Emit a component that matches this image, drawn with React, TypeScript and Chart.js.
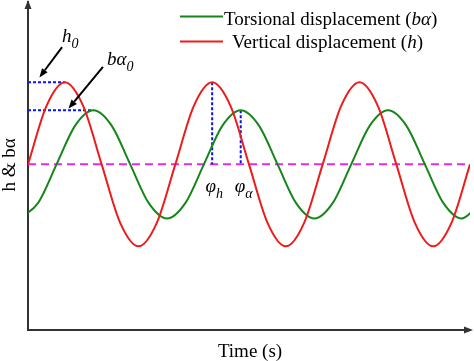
import React, { useEffect, useRef } from "react";
import { Chart, registerables } from "chart.js";

Chart.register(...registerables);

// Time samples (arbitrary units, one period = 8 units)
const redTime = [0, 1, 2, 3, 4, 5, 6, 7, 8, 9, 10, 11, 12, 13, 14, 15, 16, 17, 18, 19, 20, 21, 22, 23, 24];
// Vertical displacement h (normalised)
const redH = [0, 0.71, 1, 0.71, 0, -0.71, -1, -0.71, 0, 0.71, 1, 0.71, 0, -0.71, -1, -0.71, 0, 0.71, 1, 0.71, 0, -0.71, -1, -0.71, 0];

const greenTime = [-0.45, 0.55, 1.55, 2.55, 3.55, 4.55, 5.55, 6.55, 7.55, 8.55, 9.55, 10.55, 11.55, 12.55, 13.55, 14.55, 15.55, 16.55, 17.55, 18.55, 19.55, 20.55, 21.55, 22.55, 23.55, 24.55];
// Torsional displacement b·alpha (normalised)
const greenBA = [-0.66, -0.47, 0, 0.47, 0.66, 0.47, 0, -0.47, -0.66, -0.47, 0, 0.47, 0.66, 0.47, 0, -0.47, -0.66, -0.47, 0, 0.47, 0.66, 0.47, 0, -0.47, -0.66, -0.47];

// Annotation values
const h0 = 1;
const ba0 = 0.66;
const hPeakTime = [2, 10];
const aPeakTime = [3.55, 11.55];
const timeRange = [0, 24];
const valueRange = [-2.02, 1.98];

const RED = "#ec1c1c";
const GREEN = "#17861a";
const BLUE = "#0a14e6";
const MAGENTA = "#e22ce2";
const AXIS = "#333333";
const SERIF = "'Liberation Serif', 'Times New Roman', serif";

type Seg = { t: string; it?: boolean; sub?: boolean };

function drawRich(ctx: CanvasRenderingContext2D, segs: Seg[], x: number, y: number, size: number, align: "left" | "center" = "left") {
  const fontOf = (s: Seg) => `${s.it ? "italic " : ""}${s.sub ? Math.round(size * 0.72) : size}px ${SERIF}`;
  let total = 0;
  for (const s of segs) {
    ctx.font = fontOf(s);
    total += ctx.measureText(s.t).width;
  }
  let cx = align === "center" ? x - total / 2 : x;
  ctx.textAlign = "left";
  ctx.textBaseline = "alphabetic";
  for (const s of segs) {
    ctx.font = fontOf(s);
    ctx.fillText(s.t, cx, s.sub ? y + size * 0.3 : y);
    cx += ctx.measureText(s.t).width;
  }
}

function arrow(ctx: CanvasRenderingContext2D, x1: number, y1: number, x2: number, y2: number, head: number, hw: number, color: string, lw: number) {
  const ang = Math.atan2(y2 - y1, x2 - x1);
  const bx = x2 - head * Math.cos(ang);
  const by = y2 - head * Math.sin(ang);
  ctx.strokeStyle = color;
  ctx.fillStyle = color;
  ctx.lineWidth = lw;
  ctx.beginPath();
  ctx.moveTo(x1, y1);
  ctx.lineTo(bx, by);
  ctx.stroke();
  ctx.beginPath();
  ctx.moveTo(x2, y2);
  ctx.lineTo(bx + hw * Math.sin(ang), by - hw * Math.cos(ang));
  ctx.lineTo(bx - hw * Math.sin(ang), by + hw * Math.cos(ang));
  ctx.closePath();
  ctx.fill();
}

const decor = {
  id: "decor",
  afterDraw(chart: any) {
    const ctx: CanvasRenderingContext2D = chart.ctx;
    const { left, right, top, bottom } = chart.chartArea;
    const xs = chart.scales.x;
    const ys = chart.scales.y;
    const px = (v: number) => xs.getPixelForValue(v);
    const py = (v: number) => ys.getPixelForValue(v);
    ctx.save();

    // axis arrowheads
    arrow(ctx, left, top + 6, left, 0, 9, 3.5, AXIS, 2);
    arrow(ctx, right - 6, bottom, 473, bottom, 9, 3.5, AXIS, 2);

    ctx.fillStyle = "#000";
    // annotation arrows
    arrow(ctx, px(1.85), py(1.43), px(0.62), py(h0 + 0.06), 9, 3.5, "#000", 2);
    arrow(ctx, px(4.07), py(1.19), px(2.2), py(ba0 + 0.02), 9, 3.5, "#000", 2);

    ctx.fillStyle = "#000";
    drawRich(ctx, [{ t: "h", it: true }, { t: "0", it: true, sub: true }], px(1.85), py(1.49), 19);
    drawRich(ctx, [{ t: "b", it: true }, { t: "α", it: true }, { t: "0", it: true, sub: true }], px(4.29), py(1.21), 19);
    drawRich(ctx, [{ t: "φ", it: true }, { t: "h", it: true, sub: true }], px(hPeakTime[1]) + 2, py(-0.34), 19, "center");
    drawRich(ctx, [{ t: "φ", it: true }, { t: "α", it: true, sub: true }], px(aPeakTime[1]) + 3, py(-0.34), 19, "center");

    // legend
    ctx.lineWidth = 2;
    ctx.strokeStyle = GREEN;
    ctx.beginPath();
    ctx.moveTo(180, 16.5);
    ctx.lineTo(223, 16.5);
    ctx.stroke();
    ctx.strokeStyle = RED;
    ctx.beginPath();
    ctx.moveTo(180, 41.5);
    ctx.lineTo(223, 41.5);
    ctx.stroke();
    ctx.fillStyle = "#000";
    drawRich(ctx, [{ t: "Torsional displacement (" }, { t: "bα", it: true }, { t: ")" }], 224, 25, 19);
    drawRich(ctx, [{ t: "Vertical displacement (" }, { t: "h", it: true }, { t: ")" }], 232, 48, 19);

    // axis titles
    drawRich(ctx, [{ t: "Time (s)" }], 250, 357, 19, "center");
    ctx.save();
    ctx.translate(15, 165);
    ctx.rotate(-Math.PI / 2);
    drawRich(ctx, [{ t: "h & bα" }], 0, 0, 19, "center");
    ctx.restore();

    ctx.restore();
  },
};

export default function App() {
  const ref = useRef<HTMLCanvasElement | null>(null);
  useEffect(() => {
    if (!ref.current) return;
    const pts = (xs: number[], ys: number[]) => xs.map((x, i) => ({ x, y: ys[i] }));
    const chart = new Chart(ref.current, {
      type: "line",
      data: {
        datasets: [
          { label: "Vertical displacement (h)", data: pts(redTime, redH), borderColor: RED, borderWidth: 2, pointRadius: 0, cubicInterpolationMode: "monotone" },
          { label: "Torsional displacement (bα)", data: pts(greenTime, greenBA), borderColor: GREEN, borderWidth: 2, pointRadius: 0, cubicInterpolationMode: "monotone" },
          { label: "h0", data: [{ x: timeRange[0], y: h0 }, { x: hPeakTime[0], y: h0 }], borderColor: BLUE, borderWidth: 2, borderDash: [3, 2], pointRadius: 0 },
          { label: "ba0", data: [{ x: timeRange[0], y: ba0 }, { x: aPeakTime[0], y: ba0 }], borderColor: BLUE, borderWidth: 2, borderDash: [3, 2], pointRadius: 0 },
          { label: "phih", data: [{ x: hPeakTime[1], y: h0 }, { x: hPeakTime[1], y: 0 }], borderColor: BLUE, borderWidth: 2, borderDash: [3, 2], pointRadius: 0 },
          { label: "phia", data: [{ x: aPeakTime[1], y: ba0 }, { x: aPeakTime[1], y: 0 }], borderColor: BLUE, borderWidth: 2, borderDash: [3, 2], pointRadius: 0 },
          { label: "zero", data: [{ x: timeRange[0], y: 0 }, { x: timeRange[1], y: 0 }], borderColor: MAGENTA, borderWidth: 2, borderDash: [8, 5], pointRadius: 0 },
        ],
      },
      options: {
        animation: false,
        responsive: true,
        maintainAspectRatio: false,
        layout: { padding: { left: 28, right: 4, top: 2, bottom: 31 } },
        plugins: { legend: { display: false }, tooltip: { enabled: false } },
        scales: {
          x: {
            type: "linear",
            min: timeRange[0],
            max: timeRange[1],
            grid: { display: false, drawTicks: false },
            ticks: { display: false },
            border: { display: true, color: AXIS, width: 2 },
          },
          y: {
            type: "linear",
            min: valueRange[0],
            max: valueRange[1],
            grid: { display: false, drawTicks: false },
            ticks: { display: false },
            border: { display: true, color: AXIS, width: 2 },
          },
        },
      },
      plugins: [decor],
    } as any);
    return () => chart.destroy();
  }, []);
  return (
    <div style={{ position: "absolute", left: 0, top: 0, width: 474, height: 361, background: "#fff" }}>
      <canvas ref={ref} />
    </div>
  );
}
